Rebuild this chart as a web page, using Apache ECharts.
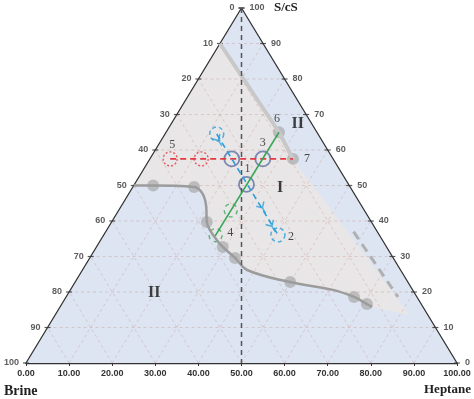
<!DOCTYPE html>
<html>
<head>
<meta charset="utf-8">
<script src="https://cdn.jsdelivr.net/npm/echarts@6/dist/echarts.min.js"></script>
<style>
html, body { margin: 0; padding: 0; background: #fff; }
#chart { width: 474px; height: 399px; }
</style>
</head>
<body>
<div id="chart"></div>
<script>
// compositions as [heptane %, S/cS %]; brine = 100 - both
var ticks = [0, 10, 20, 30, 40, 50, 60, 70, 80, 90, 100];
var binodal = [[0, 50], [4.5, 50], [14.2, 49.6], [16.9, 47.9], [19.7, 44.2], [22.1, 39.7], [23.9, 37.5],
  [27, 34.6], [29.3, 32.7], [33.7, 29.6], [38.2, 26.2], [49.9, 22.8], [60.9, 20.6], [66.8, 18.6],
  [70.8, 16.6], [72.4, 15.8]];
var binodalPts = [[4.5, 50], [14.2, 49.6], [22.1, 39.7], [29.3, 32.7], [33.7, 29.6], [49.9, 22.8],
  [66.8, 18.6], [70.8, 16.6], [26.2, 65], [33.2, 57.5]];
var upperBound = [[0, 90], [26.2, 65], [33.2, 57.5]];
var dashedBound = [[57.5, 37], [77, 18.6]];
var regionCorner = [[82.3, 13.5]];
var centerLine = [[0, 100], [50, 0]];
var redLine = [[4.7, 57.5], [33.2, 57.5]];
var redPts = [[4.7, 57.5], [11.9, 57.5]];
var greenLine = [[26, 35.8], [26.2, 65]];
var greenPts = [[26, 43], [26, 36]];
var blueLine = [[12, 64.5], [40.4, 36.1]];
var bluePts = [[12, 64.5], [40.4, 36.1]];
var blueArrows = [[13.5, 62.5], [33.2, 43.5], [38, 38.3]];
var keyPts = [[19, 57.5], [26.2, 57.5], [26, 50.3]];
var numNames = ['1', '2', '3', '4', '5', '6', '7'];
var numPts = [[26, 50.3], [40.4, 36.1], [26.2, 57.5], [26, 35.8], [4.7, 57.5], [26.2, 65], [33.2, 57.5]];
var regionNames = ['I', 'II', 'II'];
var regionPts = [[34.3, 49.3], [29.4, 67.3], [19.9, 19.7]];

function xy(p) { return [p[0] + p[1] / 2, p[1]]; }

var chart = echarts.init(document.getElementById('chart'));

function polygon(points, fill) {
  return {
    type: 'custom', silent: true, data: [xy(points[0])],
    renderItem: function (params, api) {
      return {
        type: 'polygon',
        shape: { points: points.map(function (p) { return api.coord(xy(p)); }) },
        style: { fill: fill }
      };
    }
  };
}

function segs(list, style) {
  return {
    type: 'custom', silent: true, data: list,
    renderItem: function (params, api) {
      var a = api.coord([api.value(0), api.value(1)]);
      var b = api.coord([api.value(2), api.value(3)]);
      return { type: 'line', shape: { x1: a[0], y1: a[1], x2: b[0], y2: b[1] }, style: style };
    }
  };
}

function line(points, color, width, type, smooth) {
  return {
    type: 'line', silent: true, symbol: 'none', smooth: smooth || false,
    data: points.map(xy),
    lineStyle: { color: color, width: width, type: type || 'solid' }
  };
}

function dots(points, size, itemStyle, symbol, rotate) {
  return {
    type: 'scatter', silent: true, symbol: symbol || 'circle', symbolSize: size,
    symbolRotate: rotate || 0,
    data: points.map(xy), itemStyle: itemStyle
  };
}

// grid lines
var gridSegs = [];
ticks.slice(1, 10).forEach(function (k) {
  var a = xy([0, k]), b = xy([100 - k, k]);
  gridSegs.push([a[0], a[1], b[0], b[1]]);
  a = xy([k, 0]); b = xy([k, 100 - k]);
  gridSegs.push([a[0], a[1], b[0], b[1]]);
  a = xy([100 - k, 0]); b = xy([0, 100 - k]);
  gridSegs.push([a[0], a[1], b[0], b[1]]);
});

var regionPoly = upperBound.concat(regionCorner).concat(binodal.slice().reverse());
var numOffsets = [[1, -16], [13, 2], [0, -16], [15, -3], [2, -14], [-2, -13], [14, 0]];

var serif = 'Liberation Serif';

chart.setOption({
  animation: false,
  grid: { left: 26, right: 17, top: 8, bottom: 36 },
  xAxis: {
    type: 'value', min: 0, max: 100, interval: 10,
    axisLine: { lineStyle: { color: '#333', width: 1.3 } },
    axisTick: { show: true, length: 3, lineStyle: { color: '#333' } },
    axisLabel: {
      margin: 6, fontSize: 9, fontWeight: 'bold', color: '#333', fontFamily: 'Liberation Sans',
      formatter: function (v) { return v.toFixed(2); }
    },
    splitLine: { show: false }
  },
  yAxis: { type: 'value', min: 0, max: 100, show: false },
  series: [
    polygon([[0, 0], [100, 0], [0, 100]], '#dce5f1'),
    polygon(regionPoly, '#e8e6e6'),
    segs(gridSegs, { stroke: 'rgba(200,140,140,0.45)', lineWidth: 0.8, lineDash: [3, 3] }),
    line([[0, 0], [0, 100], [100, 0]], '#333', 1.3),
    line(upperBound, '#c8c8c8', 4),
    line(dashedBound, '#b0b0b0', 3, [9, 6]),
    line(binodal, '#9c9c9c', 2.5, 'solid', 0.4),
    dots(binodalPts, 12, { color: 'rgba(165,165,165,0.8)' }),
    line(centerLine, '#555', 1.5, [5, 4]),
    line(redLine, '#e5383f', 1.6, [6, 4]),
    line(greenLine, '#3aa65a', 1.6),
    line(blueLine, '#2a9fdc', 1.6, [6, 4]),
    dots(redPts, 14, { color: 'transparent', borderColor: '#e5383f', borderWidth: 1.4, borderType: [2, 2] }),
    dots(greenPts, 13, { color: 'transparent', borderColor: '#3aa65a', borderWidth: 1.4, borderType: [4, 4] }),
    dots(bluePts, 14, { color: 'transparent', borderColor: '#2a9fdc', borderWidth: 1.5, borderType: [4, 3] }),
    dots(blueArrows, [9, 11], { color: 'none', borderColor: '#2a9fdc', borderWidth: 1.5 },
      'path://M0,0L5,6L10,0M5,6L5,14', 31),
    dots(keyPts, 15, { color: 'transparent', borderColor: '#5f6fa5', borderWidth: 1.8 }),
    {
      type: 'scatter', silent: true, symbolSize: 0,
      data: numPts.map(function (p, i) {
        return {
          value: xy(p), name: numNames[i],
          label: { offset: numOffsets[i] }
        };
      }),
      label: {
        show: true, position: 'inside', formatter: '{b}',
        fontFamily: serif, fontSize: 12, color: '#222'
      }
    },
    {
      type: 'scatter', silent: true, symbolSize: 0,
      data: regionPts.map(function (p, i) { return { value: xy(p), name: regionNames[i] }; }),
      label: {
        show: true, position: 'inside', formatter: '{b}',
        fontFamily: serif, fontSize: 16, fontWeight: 'bold', color: '#111'
      }
    },
    {
      type: 'scatter', silent: true, symbol: 'rect', symbolSize: [6, 1.2],
      itemStyle: { color: '#333' },
      data: ticks.map(function (v) { return { value: xy([0, 100 - v]), name: String(v) }; }),
      label: {
        show: true, position: 'left', distance: 4, formatter: '{b}',
        fontFamily: 'Liberation Sans', fontSize: 9, fontWeight: 'bold', color: '#333'
      }
    },
    {
      type: 'scatter', silent: true, symbol: 'rect', symbolSize: [6, 1.2],
      itemStyle: { color: '#333' },
      data: ticks.map(function (v) { return { value: xy([100 - v, v]), name: String(v) }; }),
      label: {
        show: true, position: 'right', distance: 5, formatter: '{b}',
        fontFamily: 'Liberation Sans', fontSize: 9, fontWeight: 'bold', color: '#333'
      }
    }
  ],
  graphic: [
    { type: 'text', left: 274, top: 1, style: { text: 'S/cS', font: 'bold 13px "Liberation Serif"', fill: '#222' } },
    { type: 'text', left: 4, top: 384, style: { text: 'Brine', font: 'bold 14px "Liberation Serif"', fill: '#222' } },
    { type: 'text', left: 424, top: 383, style: { text: 'Heptane', font: 'bold 13px "Liberation Serif"', fill: '#222' } }
  ]
});
</script>
</body>
</html>
